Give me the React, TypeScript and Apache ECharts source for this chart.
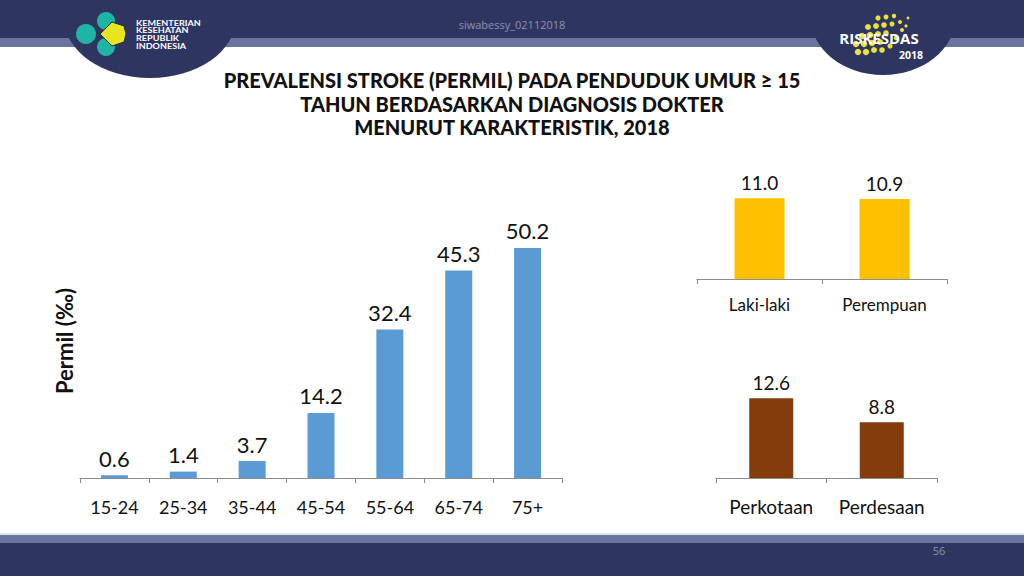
import React, { useEffect, useRef } from "react";
import * as echarts from "echarts";

const ageCategories = ["15-24", "25-34", "35-44", "45-54", "55-64", "65-74", "75+"];
const ageValues = [0.6, 1.4, 3.7, 14.2, 32.4, 45.3, 50.2];
const sexCategories = ["Laki-laki", "Perempuan"];
const sexValues = [11.0, 10.9];
const areaCategories = ["Perkotaan", "Perdesaan"];
const areaValues = [12.6, 8.8];

const titleLines = [
  "PREVALENSI STROKE (PERMIL) PADA PENDUDUK UMUR \u2265 15",
  "TAHUN BERDASARKAN DIAGNOSIS DOKTER",
  "MENURUT KARAKTERISTIK, 2018",
];
const logoLines = ["KEMENTERIAN", "KESEHATAN", "REPUBLIK", "INDONESIA"];

const NAVY = "#2f3561";
const STRIPE = "#6b739f";
const FONT = "Lato, 'Open Sans', sans-serif";

const dotPositions: number[][] = [
  [858, 52, 3.2], [866, 52, 3.2], [874, 50, 3], [856, 44, 3.2], [864, 44, 3.2], [872, 43, 3.2], [880, 42, 3],
  [862, 36, 3.2], [870, 35, 3.2], [878, 34, 3], [886, 33, 2.8], [868, 27, 3], [876, 26, 3], [884, 25, 2.8],
  [892, 24, 2.5], [878, 18, 2.6], [886, 17, 2.5], [894, 16, 2.2], [900, 22, 2], [902, 30, 2], [896, 38, 2.2],
  [906, 26, 1.6], [908, 18, 1.5], [890, 46, 2.6], [882, 50, 2.8],
];

export default function App() {
  const ref = useRef<HTMLDivElement>(null);
  useEffect(() => {
    if (!ref.current) return;
    const chart = echarts.init(ref.current, null, { renderer: "svg" });

    const axisLine = { show: true, lineStyle: { color: "#8c8c8c", width: 1 } };
    const axisTick = { show: true, length: 5, lineStyle: { color: "#8c8c8c" } };
    const valLabel = (size: number) => ({
      show: true,
      position: "top" as const,
      distance: 6,
      fontFamily: FONT,
      fontSize: size,
      color: "#111",
      formatter: (p: any) => Number(p.value).toFixed(1),
    });
    const hiddenY = (gridIndex: number, max: number) => ({
      type: "value" as const,
      gridIndex,
      min: 0,
      max,
      show: false,
      splitLine: { show: false },
    });

    const graphics: any[] = [
      { type: "rect", shape: { x: 0, y: 0, width: 1024, height: 38 }, style: { fill: NAVY }, z: 0 },
      { type: "rect", shape: { x: 0, y: 38, width: 1024, height: 9 }, style: { fill: STRIPE }, z: 0 },
      { type: "ellipse", shape: { cx: 150, cy: 18, rx: 86, ry: 60 }, style: { fill: NAVY }, z: 1 },
      { type: "ellipse", shape: { cx: 883, cy: 18, rx: 72, ry: 57 }, style: { fill: NAVY }, z: 1 },
      { type: "rect", shape: { x: 0, y: 533, width: 1024, height: 2 }, style: { fill: "#dfe3ef" }, z: 0 },
      { type: "rect", shape: { x: 0, y: 535, width: 1024, height: 8 }, style: { fill: STRIPE }, z: 0 },
      { type: "rect", shape: { x: 0, y: 543, width: 1024, height: 33 }, style: { fill: NAVY }, z: 0 },
      // kemenkes logo
      { type: "circle", shape: { cx: 86, cy: 34, r: 10 }, style: { fill: "#1fb5a6" }, z: 2 },
      { type: "circle", shape: { cx: 106, cy: 21, r: 9 }, style: { fill: "#1fb5a6" }, z: 2 },
      { type: "circle", shape: { cx: 106, cy: 47, r: 9 }, style: { fill: "#1fb5a6" }, z: 2 },
      { type: "polygon", shape: { points: [[100, 34], [112, 22], [124, 26], [126, 34], [124, 42], [112, 46]] }, style: { fill: "#e6e51f", stroke: "#1d2a3a", lineWidth: 1 }, z: 3 },
      ...logoLines.map((t, i) => ({
        type: "text",
        x: 136,
        y: 23 + i * 7.7,
        scaleX: 1.3,
        style: { text: t, fill: "#fff", font: `bold 7px ${FONT}`, verticalAlign: "middle" },
        z: 3,
      })),
      // riskesdas logo
      ...dotPositions.map((d) => ({ type: "circle", shape: { cx: d[0], cy: d[1], r: d[2] }, style: { fill: "#e8e23a" }, z: 2 })),
      { type: "text", x: 879, y: 38, style: { text: "RISKESDAS", fill: "#fff", font: `bold 15px 'Open Sans', sans-serif`, align: "center", verticalAlign: "middle" }, z: 3 },
      { type: "text", x: 923, y: 55, style: { text: "2018", fill: "#fff", font: `bold 10.5px 'Open Sans', sans-serif`, align: "right", verticalAlign: "middle" }, z: 3 },
      { type: "text", x: 512, y: 24, style: { text: "siwabessy_02112018", fill: "#8d92b3", font: `11px 'Open Sans', sans-serif`, align: "center", verticalAlign: "middle" }, z: 3 },
      { type: "text", x: 939, y: 550, style: { text: "56", fill: "#8d92b3", font: `11px 'Open Sans', sans-serif`, align: "center", verticalAlign: "middle" }, z: 3 },
      ...titleLines.map((t, i) => ({
        type: "text",
        x: 512,
        y: 80 + i * 23.5,
        style: { text: t, fill: "#111", font: `900 20px ${FONT}`, align: "center", verticalAlign: "middle" },
        z: 3,
      })),
      {
        type: "text",
        x: 64,
        y: 341,
        rotation: Math.PI / 2,
        style: { text: "Permil (\u2030)", fill: "#111", font: `bold 22px ${FONT}`, align: "center", verticalAlign: "middle" },
        z: 3,
      },
    ];

    chart.setOption({
      animation: false,
      backgroundColor: "#ffffff",
      graphic: graphics,
      grid: [
        { left: 80, top: 203, width: 482, height: 275 },
        { left: 697, top: 169, width: 250, height: 110 },
        { left: 716, top: 383, width: 221, height: 95 },
      ],
      xAxis: [
        { type: "category", gridIndex: 0, data: ageCategories, axisLine, axisTick, axisLabel: { interval: 0, margin: 20, fontFamily: FONT, fontSize: 18, color: "#111" } },
        { type: "category", gridIndex: 1, data: sexCategories, axisLine, axisTick, axisLabel: { interval: 0, margin: 17, fontFamily: FONT, fontSize: 17, color: "#111" } },
        { type: "category", gridIndex: 2, data: areaCategories, axisLine, axisTick, axisLabel: { interval: 0, margin: 19, fontFamily: FONT, fontSize: 19, color: "#111" } },
      ],
      yAxis: [hiddenY(0, 60), hiddenY(1, 15), hiddenY(2, 15)],
      series: [
        { type: "bar", xAxisIndex: 0, yAxisIndex: 0, data: ageValues, barWidth: 27, itemStyle: { color: "#5b9bd5" }, label: valLabel(22) },
        { type: "bar", xAxisIndex: 1, yAxisIndex: 1, data: sexValues, barWidth: 50, itemStyle: { color: "#ffc000" }, label: valLabel(19) },
        { type: "bar", xAxisIndex: 2, yAxisIndex: 2, data: areaValues, barWidth: 44, itemStyle: { color: "#843c0c" }, label: valLabel(19) },
      ],
    });
    return () => chart.dispose();
  }, []);
  return <div ref={ref} style={{ position: "fixed", left: 0, top: 0, width: 1024, height: 576 }} />;
}
